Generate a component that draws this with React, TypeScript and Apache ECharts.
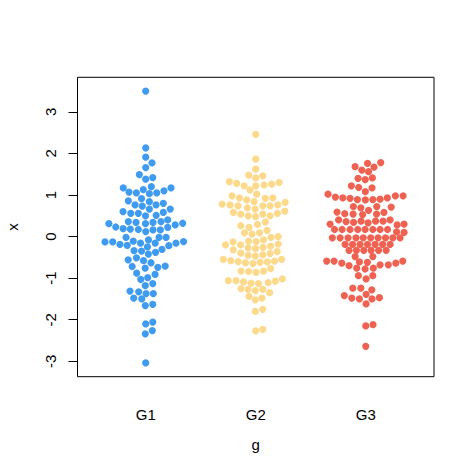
import { useEffect, useRef } from "react";
import * as echarts from "echarts";

const groups = ["G1", "G2", "G3"];
const colors = ["#3F9BF0", "#FDD98C", "#EF6150"];
const yTicks = [-3, -2, -1, 0, 1, 2, 3];
const FONT = "'Liberation Sans', Arial, Helvetica, sans-serif";

// G1: value and horizontal swarm offset (category units)
const g1Value = [
  3.5, 2.13, 1.91, 1.77, 1.66, 1.49, 1.42, 1.38,
  1.17, 1.07, 1.05, 1.13, 1.2, 1.03, 1.05, 1.1, 1.17, 0.91,
  0.86, 0.76, 0.73, 0.84, 0.76, 0.8,
  0.6, 0.56, 0.56, 0.5, 0.66, 0.51, 0.58, 0.66,
  0.31, 0.23, 0.19, 0.36, 0.18, 0.34, 0.17, 0.31, 0.12, 0.34, 0.16, 0.36, 0.16, 0.4, 0.22, 0.28, 0.32,
  -0.13, -0.13, -0.19, -0.02, -0.21, -0.11, -0.16, -0.08, -0.25, -0.16, -0.02, -0.02, -0.22, -0.16, -0.12,
  -0.34, -0.35, -0.42, -0.38, -0.31,
  -0.56, -0.51, -0.58, -0.63, -0.72, -0.76, -0.74, -0.71,
  -0.88, -1.03, -0.99, -0.91, -1.18, -1.13,
  -1.31, -1.48, -1.33, -1.5, -1.37, -1.37, -1.66, -1.63,
  -2.1, -2.06, -2.34, -2.26, -3.04,
];
const g1Offset = [
  0, 0, 0, 0.057, 0, -0.058, 0.064, 0,
  -0.204, -0.152, -0.085, -0.022, 0.051, 0.033, 0.1, 0.166, 0.23, -0.038,
  -0.158, -0.097, -0.031, 0.033, 0.094, 0.16,
  -0.206, -0.136, -0.067, -0.002, 0.033, 0.095, 0.16, 0.223,
  -0.335, -0.272, -0.205, -0.158, -0.14, -0.088, -0.067, -0.002, 0, 0.066, 0.066, 0.139, 0.133, 0.2, 0.2, 0.268, 0.336,
  -0.37, -0.3, -0.234, -0.179, -0.168, -0.113, -0.047, 0.025, 0.016, 0.086, 0.121, 0.185, 0.21, 0.275, 0.344,
  -0.106, -0.038, 0.024, 0.089, 0.148,
  -0.159, -0.084, -0.02, 0.048, -0.123, -0.005, 0.11, 0.177,
  -0.082, -0.045, 0.018, 0.085, -0.004, 0.064,
  -0.143, -0.109, -0.064, -0.036, 0.003, 0.069, -0.004, 0.064,
  0, 0.064, -0.004, 0.06, 0,
];

const g2Value = [
  2.46, 1.86, 1.62, 1.48, 1.46, 1.41,
  1.32, 1.28, 1.22, 1.22, 1.24, 1.26, 1.3, 1.12, 1.02,
  0.98, 0.93, 0.88, 0.84, 0.92, 0.93, 0.78, 0.76, 0.74, 0.69, 0.66, 0.74, 0.74, 0.76, 0.82,
  0.58, 0.54, 0.5, 0.48, 0.54, 0.5, 0.56, 0.61,
  0.26, 0.22, 0.29, 0.35,
  0.09, 0.06, 0.09, 0.15,
  -0.11, -0.12, -0.08, -0.02, 0.0,
  -0.2, -0.13, -0.2, -0.27, -0.29, -0.26, -0.23, -0.18,
  -0.32, -0.4, -0.45, -0.47, -0.44, -0.41, -0.36,
  -0.55, -0.58, -0.6, -0.63, -0.65, -0.62, -0.61, -0.59, -0.55,
  -0.83, -0.84, -0.86, -0.83, -0.77,
  -1.06, -1.06, -1.09, -1.12, -1.13, -1.11, -1.07, -1.02,
  -1.25, -1.27, -1.3, -1.27, -1.35,
  -1.44, -1.52, -1.48,
  -1.8, -1.75, -2.27, -2.23,
];
const g2Offset = [
  0, 0, 0, -0.064, 0.064, 0,
  -0.24, -0.173, -0.106, 0, 0.075, 0.145, 0.212, -0.052, 0.009,
  -0.215, -0.148, -0.082, -0.015, 0.087, 0.155, -0.306, -0.233, -0.161, -0.076, -0.006, 0.064, 0.13, 0.2, 0.267,
  -0.203, -0.136, -0.069, -0.002, 0.064, 0.13, 0.197, 0.264,
  -0.136, -0.061, 0.016, 0.087,
  -0.102, -0.034, 0.035, 0.103,
  -0.065, 0.003, 0.071, 0.139, 0.204,
  -0.275, -0.206, -0.138, -0.07, -0.002, 0.066, 0.135, 0.204,
  -0.204, -0.136, -0.069, -0.004, 0.064, 0.13, 0.195,
  -0.295, -0.227, -0.159, -0.093, -0.026, 0.039, 0.105, 0.171, 0.235,
  -0.134, -0.065, 0.003, 0.071, 0.135,
  -0.249, -0.179, -0.111, -0.043, 0.025, 0.112, 0.178, 0.242,
  -0.134, -0.07, -0.004, 0.064, 0.126,
  -0.061, -0.004, 0.057,
  -0.004, 0.064, 0, 0.064,
];

const g3Value = [
  1.68, 1.6, 1.76, 1.67, 1.78, 1.56, 1.4, 1.37, 1.41,
  1.22, 1.18, 1.08, 1.17,
  1.02, 0.95, 0.93, 0.92, 0.89, 0.88, 0.89, 0.9, 0.93, 0.98, 0.98,
  0.72, 0.69, 0.72, 0.71,
  0.59, 0.55, 0.54, 0.53, 0.63, 0.54, 0.58,
  0.3, 0.4, 0.36, 0.34, 0.37, 0.33, 0.37, 0.37, 0.4, 0.28, 0.3,
  0.17, 0.17, 0.17, 0.17, 0.17, 0.17, 0.17, 0.17, 0.11, 0.1,
  -0.03, -0.03, -0.03, -0.03, -0.03, -0.03, -0.03, -0.03, -0.03, -0.03,
  -0.19, -0.19, -0.19, -0.19, -0.19, -0.19, -0.19,
  -0.33, -0.33, -0.33, -0.33, -0.33, -0.33,
  -0.48, -0.48,
  -0.59, -0.59, -0.64, -0.7, -0.61, -0.62, -0.68, -0.68, -0.64, -0.59,
  -0.76, -0.78, -0.76,
  -0.94, -1.02, -0.94,
  -1.24, -1.24, -1.28, -1.42, -1.48, -1.5, -1.39, -1.5, -1.47, -1.62,
  -2.15, -2.12, -2.64,
];
const g3Offset = [
  -0.097, -0.036, 0.016, 0.075, 0.136, 0.025, -0.07, -0.005, 0.06,
  -0.131, -0.064, -0.004, 0.057,
  -0.343, -0.276, -0.209, -0.143, -0.076, -0.004, 0.064, 0.13, 0.196, 0.269, 0.339,
  -0.113, -0.045, 0.1, 0.231,
  -0.261, -0.191, -0.115, -0.029, 0.025, 0.098, 0.165,
  -0.324, -0.247, -0.179, -0.111, -0.043, 0.021, 0.089, 0.157, 0.221, 0.285, 0.348,
  -0.284, -0.215, -0.143, -0.073, -0.006, 0.064, 0.13, 0.198, 0.28, 0.348,
  -0.304, -0.233, -0.161, -0.089, -0.023, 0.045, 0.112, 0.179, 0.246, 0.312,
  -0.188, -0.12, -0.052, 0.016, 0.085, 0.153, 0.221,
  -0.152, -0.085, -0.018, 0.048, 0.116, 0.185,
  -0.097, 0.064,
  -0.355, -0.288, -0.218, -0.152, -0.058, 0.015, 0.13, 0.205, 0.273, 0.336,
  -0.082, -0.006, 0.069,
  -0.067, 0.003, 0.064,
  -0.118, -0.045, 0.055, -0.195, -0.127, -0.058, 0.003, 0.057, 0.124, 0.003,
  0, 0.066, 0,
];

const groupValues = [g1Value, g2Value, g3Value];
const groupOffsets = [g1Offset, g2Offset, g3Offset];

export default function App() {
  const ref = useRef<HTMLDivElement>(null);

  useEffect(() => {
    const chart = echarts.init(ref.current as HTMLDivElement, null, { renderer: "svg" });
    const series = groups.map((name, gi) => ({
      name,
      type: "scatter",
      symbol: "circle",
      symbolSize: 7.2,
      silent: true,
      itemStyle: { color: colors[gi], opacity: 1 },
      data: groupValues[gi].map((v, i) => [gi + 1 + groupOffsets[gi][i], v]),
    }));
    chart.setOption({
      animation: false,
      backgroundColor: "#ffffff",
      textStyle: { fontFamily: FONT },
      grid: {
        left: 77.5,
        top: 77.3,
        width: 356.5,
        height: 299.4,
        show: true,
        borderColor: "#000000",
        borderWidth: 1,
        backgroundColor: "transparent",
        containLabel: false,
        outerBoundsMode: "none",
      },
      xAxis: {
        type: "value",
        min: 0.38,
        max: 3.62,
        splitLine: { show: false },
        axisLine: { show: false },
        axisTick: { show: false },
        axisLabel: {
          customValues: [1, 2, 3],
          formatter: (v: number) => groups[Math.round(v) - 1] ?? "",
          fontSize: 15,
          color: "#000000",
          fontFamily: FONT,
          margin: 30,
        },
        name: "g",
        nameLocation: "middle",
        nameGap: 60,
        nameTextStyle: { fontSize: 15, color: "#000000", fontFamily: FONT },
      },
      yAxis: {
        type: "value",
        min: -3.37,
        max: 3.83,
        splitLine: { show: false },
        axisLine: { show: false },
        axisTick: {
          show: true,
          customValues: yTicks,
          length: 9,
          lineStyle: { color: "#000000", width: 1 },
        },
        axisLabel: {
          customValues: yTicks,
          rotate: 90,
          fontSize: 15,
          color: "#000000",
          fontFamily: FONT,
          margin: 20,
        },
        name: "x",
        nameLocation: "middle",
        nameGap: 58,
        nameRotate: 90,
        nameTextStyle: { fontSize: 15, color: "#000000", fontFamily: FONT },
      },
      series,
    });
    return () => chart.dispose();
  }, []);

  return (
    <div
      ref={ref}
      style={{ position: "fixed", left: 0, top: 0, width: 474, height: 474, background: "#ffffff" }}
    />
  );
}
